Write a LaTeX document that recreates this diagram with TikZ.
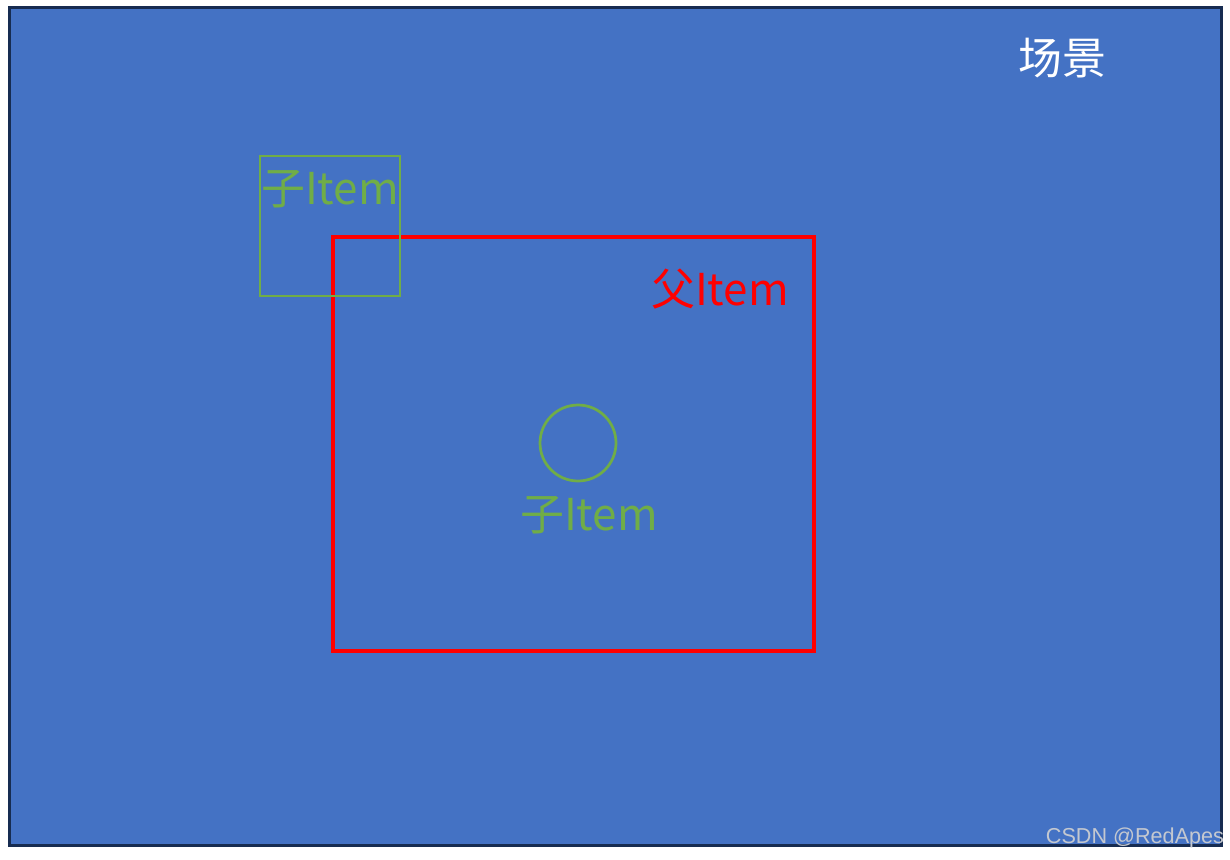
\documentclass[tikz,border=0pt]{standalone}
\usepackage{fontspec}
\setmainfont{Noto Sans CJK SC}
\newfontfamily\markfont{Liberation Sans}
\usepackage{xcolor}
\usepackage{tikz}
\usetikzlibrary{positioning}
\definecolor{sceneblue}{HTML}{4472C4}
\definecolor{sceneedge}{HTML}{172C51}
\definecolor{itemgreen}{HTML}{70AD47}
\definecolor{markgray}{HTML}{C4C8D0}

\begin{document}
\begin{tikzpicture}[x=0.02cm, y=-0.02cm,
        % Define the looks of the item frames and their labels
        item_label/.style={inner sep=0pt, font=\fontsize{25}{30}\selectfont},
        child_frame/.style={draw=itemgreen, line width=1.55pt},
        parent_frame/.style={draw=red, line width=2pt}
    ]
        \useasboundingbox (0,0) rectangle (1230,859);

        % --- Draw the scene ---
        \draw[fill=sceneblue, draw=sceneedge, line width=1.7pt] (9.5,7.5) rectangle (1221,845);
        \node (scene_label) [item_label, text=white] at (1062,58) {场景};

        % --- Draw the parent item ---
        \draw[parent_frame] (333,237) rectangle (814,651);
        \node (parent_label) [item_label, text=red] at (720,289) {父Item};

        % --- Draw the child items ---
        \draw[child_frame] (260,156) rectangle (400,296);
        \node (child_label) [item_label, text=itemgreen] at (330,189) {子Item};

        \node (child_circle) [child_frame, circle, minimum size=1.52cm, inner sep=0pt] at (578,443) {};
        \node (circle_label) [item_label, text=itemgreen, below=0.28cm of child_circle, xshift=0.22cm] {子Item};

        % --- Watermark ---
        \node (watermark) [inner sep=0pt, text=markgray, font=\markfont\fontsize{12.3}{14}\selectfont] at (1135,838) {CSDN @RedApes};
    \end{tikzpicture}
\end{document}
